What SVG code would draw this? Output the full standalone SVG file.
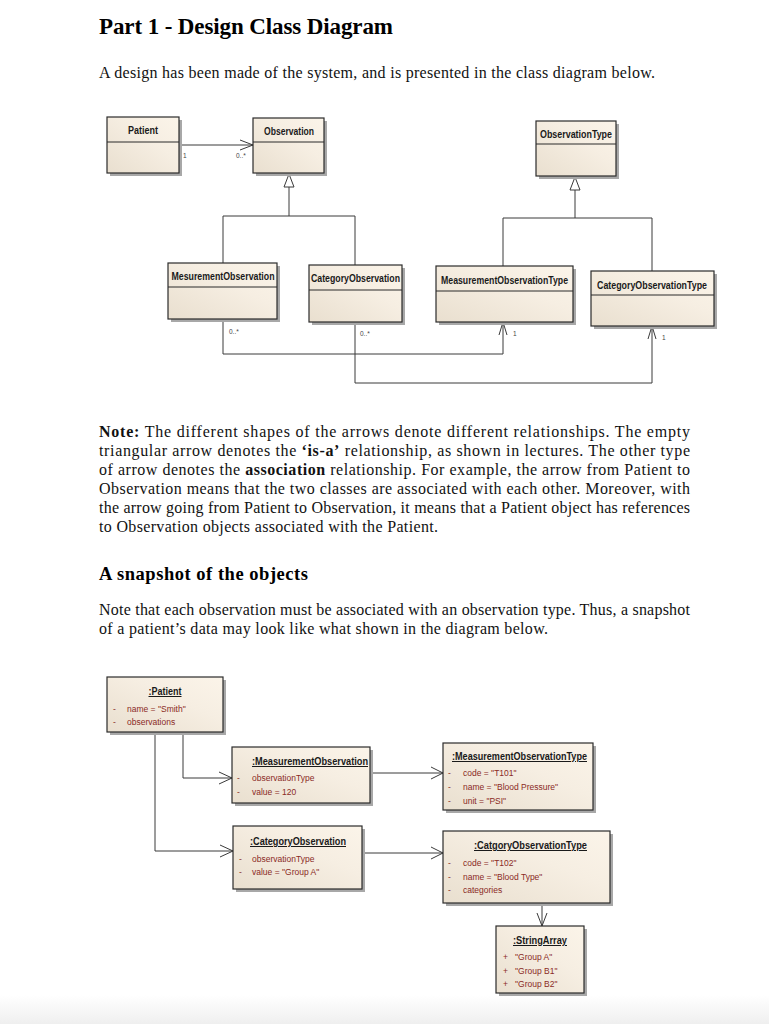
<svg xmlns="http://www.w3.org/2000/svg" width="769" height="1024" viewBox="0 0 769 1024">
<defs>
<linearGradient id="boxfill" x1="0" y1="1" x2="1" y2="0">
<stop offset="0" stop-color="#e9dfcf"/>
<stop offset="0.6" stop-color="#f6eee2"/>
<stop offset="1" stop-color="#fbf4e9"/>
</linearGradient>
<linearGradient id="bottomfade" x1="0" y1="0" x2="0" y2="1">
<stop offset="0" stop-color="#ffffff"/>
<stop offset="1" stop-color="#efefef"/>
</linearGradient>
<style>
.shadow{fill:#a8a8a8;}
.box{fill:url(#boxfill);stroke:#2b2b2b;stroke-width:1.2;}
.div{stroke:#2b2b2b;stroke-width:1;fill:none;}
.cname{font-family:"Liberation Sans",Arial,sans-serif;font-weight:bold;font-size:10px;fill:#1a1a1a;}
.oname{font-family:"Liberation Sans",Arial,sans-serif;font-weight:bold;font-size:10px;fill:#1a1a1a;text-decoration:underline;}
.attr{font-family:"Liberation Sans",Arial,sans-serif;font-size:8.5px;fill:#8a2a25;}
.mult{font-family:"Liberation Sans",Arial,sans-serif;font-size:6.5px;fill:#444;}
.conn{stroke:#3a3a3a;stroke-width:1;fill:none;}
.gen{stroke:#3a3a3a;stroke-width:1;fill:#ffffff;}
.h1{font-family:"Liberation Serif","Times New Roman",serif;font-weight:bold;font-size:23px;fill:#000;}
.h2{font-family:"Liberation Serif","Times New Roman",serif;font-weight:bold;font-size:18.5px;fill:#000;}
.p{font-family:"Liberation Serif","Times New Roman",serif;font-size:16px;fill:#111;}
.b{font-weight:bold;}
</style>
</defs>
<rect x="0" y="0" width="769" height="1024" fill="#ffffff"/>
<rect x="0" y="995" width="769" height="29" fill="url(#bottomfade)"/>

<g id="texts">
<text class="h1" x="99" y="34" textLength="294">Part 1 - Design Class Diagram</text>
<text class="p" x="99" y="78" textLength="556">A design has been made of the system, and is presented in the class diagram below.</text>
<text class="p" x="99" y="437" textLength="591"><tspan class="b">Note:</tspan>  The different shapes of the arrows denote different relationships.  The empty</text>
<text class="p" x="99" y="456" textLength="591">triangular arrow denotes the <tspan class="b">‘is-a’</tspan> relationship, as shown in lectures.  The other type</text>
<text class="p" x="99" y="475" textLength="591">of arrow denotes the <tspan class="b">association</tspan> relationship.  For example, the arrow from Patient to</text>
<text class="p" x="99" y="494" textLength="591">Observation means that the two classes are associated with each other.  Moreover, with</text>
<text class="p" x="99" y="513" textLength="591">the arrow going from Patient to Observation, it means that a Patient object has references</text>
<text class="p" x="99" y="532" textLength="339">to Observation objects associated with the Patient.</text>
<text class="h2" x="99" y="580" textLength="209">A snapshot of the objects</text>
<text class="p" x="99" y="615" textLength="591">Note that each observation must be associated with an observation type.  Thus, a snapshot</text>
<text class="p" x="99" y="634" textLength="449">of a patient’s data may look like what shown in the diagram below.</text>
</g>

<g id="class-connectors">
<line class="conn" x1="179" y1="145" x2="253" y2="145"/>
<polyline class="conn" points="240,140 253,145 240,150"/>
<text class="mult" x="183" y="158">1</text>
<text class="mult" x="236" y="158">0..*</text>

<polyline class="conn" points="223,263 223,216 355,216 355,265"/>
<line class="conn" x1="289" y1="216" x2="289" y2="187"/>
<polygon class="gen" points="289,174 284,187 294,187"/>

<polyline class="conn" points="503,266 503,218 652,218 652,271"/>
<line class="conn" x1="575" y1="218" x2="575" y2="190"/>
<polygon class="gen" points="575,177 570,190 580,190"/>

<polyline class="conn" points="223,319 223,354 503,354 503,322"/>
<polyline class="conn" points="499,335 503,322 507,335"/>
<text class="mult" x="229" y="334">0..*</text>
<text class="mult" x="513" y="336">1</text>

<polyline class="conn" points="355,322 355,383 652,383 652,326"/>
<polyline class="conn" points="648,339 652,326 656,339"/>
<text class="mult" x="360" y="336">0..*</text>
<text class="mult" x="662" y="340">1</text>
</g>

<g id="Patient">
<rect class="shadow" x="110" y="120" width="72" height="56"/>
<rect class="box" x="107" y="117" width="72" height="56"/>
<line class="div" x1="107" y1="142" x2="179" y2="142"/>
<text class="cname" x="143" y="134" text-anchor="middle" textLength="30" lengthAdjust="spacingAndGlyphs">Patient</text>
</g>
<g id="Observation">
<rect class="shadow" x="256" y="121" width="71" height="55"/>
<rect class="box" x="253" y="118" width="71" height="55"/>
<line class="div" x1="253" y1="142" x2="324" y2="142"/>
<text class="cname" x="289" y="135" text-anchor="middle" textLength="50" lengthAdjust="spacingAndGlyphs">Observation</text>
</g>
<g id="ObservationType">
<rect class="shadow" x="539" y="124" width="80" height="55"/>
<rect class="box" x="536" y="121" width="80" height="55"/>
<line class="div" x1="536" y1="144" x2="616" y2="144"/>
<text class="cname" x="576" y="138" text-anchor="middle" textLength="72" lengthAdjust="spacingAndGlyphs">ObservationType</text>
</g>
<g id="MesurementObservation">
<rect class="shadow" x="171" y="266" width="109" height="56"/>
<rect class="box" x="168" y="263" width="109" height="56"/>
<line class="div" x1="168" y1="287" x2="277" y2="287"/>
<text class="cname" x="223" y="280" text-anchor="middle" textLength="103" lengthAdjust="spacingAndGlyphs">MesurementObservation</text>
</g>
<g id="CategoryObservation">
<rect class="shadow" x="312" y="268" width="93" height="57"/>
<rect class="box" x="309" y="265" width="93" height="57"/>
<line class="div" x1="309" y1="290" x2="402" y2="290"/>
<text class="cname" x="355.5" y="282" text-anchor="middle" textLength="89" lengthAdjust="spacingAndGlyphs">CategoryObservation</text>
</g>
<g id="MeasurementObservationType">
<rect class="shadow" x="439" y="269" width="137" height="56"/>
<rect class="box" x="436" y="266" width="137" height="56"/>
<line class="div" x1="436" y1="291" x2="573" y2="291"/>
<text class="cname" x="504.5" y="284" text-anchor="middle" textLength="127" lengthAdjust="spacingAndGlyphs">MeasurementObservationType</text>
</g>
<g id="CategoryObservationType">
<rect class="shadow" x="594" y="274" width="123" height="55"/>
<rect class="box" x="591" y="271" width="123" height="55"/>
<line class="div" x1="591" y1="295" x2="714" y2="295"/>
<text class="cname" x="652" y="289" text-anchor="middle" textLength="110" lengthAdjust="spacingAndGlyphs">CategoryObservationType</text>
</g>

<g id="object-connectors">
<polyline class="conn" points="183,732 183,778 232,778"/>
<polyline class="conn" points="219,772 232,778 219,784"/>
<polyline class="conn" points="155,732 155,851 233,851"/>
<polyline class="conn" points="220,845 233,851 220,857"/>
<line class="conn" x1="370" y1="773" x2="443" y2="773"/>
<polyline class="conn" points="431,767 443,773 431,779"/>
<line class="conn" x1="362" y1="853" x2="443" y2="853"/>
<polyline class="conn" points="431,847 443,853 431,859"/>
<line class="conn" x1="542" y1="903" x2="542" y2="926"/>
<polyline class="conn" points="537,913 542,926 547,913"/>
</g>

<g id="obj-Patient">
<rect class="shadow" x="110" y="680" width="116" height="55"/>
<rect class="box" x="107" y="677" width="116" height="55"/>
<text class="oname" x="165" y="695" text-anchor="middle" textLength="33" lengthAdjust="spacingAndGlyphs">:Patient</text>
<text class="attr" x="113" y="712">-</text><text class="attr" x="127" y="712">name = "Smith"</text>
<text class="attr" x="113" y="725">-</text><text class="attr" x="127" y="725">observations</text>
</g>
<g id="obj-MeasurementObservation">
<rect class="shadow" x="235" y="750" width="138" height="56"/>
<rect class="box" x="232" y="747" width="138" height="56"/>
<text class="oname" x="252" y="765" textLength="116" lengthAdjust="spacingAndGlyphs">:MeasurementObservation</text>
<text class="attr" x="237" y="781">-</text><text class="attr" x="252" y="781">observationType</text>
<text class="attr" x="237" y="795">-</text><text class="attr" x="252" y="795">value = 120</text>
</g>
<g id="obj-MeasurementObservationType">
<rect class="shadow" x="446" y="746" width="150" height="67"/>
<rect class="box" x="443" y="743" width="150" height="67"/>
<text class="oname" x="452" y="760" textLength="135" lengthAdjust="spacingAndGlyphs">:MeasurementObservationType</text>
<text class="attr" x="448" y="776">-</text><text class="attr" x="463" y="776">code = "T101"</text>
<text class="attr" x="448" y="790">-</text><text class="attr" x="463" y="790">name = "Blood Pressure"</text>
<text class="attr" x="448" y="804">-</text><text class="attr" x="463" y="804">unit = "PSI"</text>
</g>
<g id="obj-CategoryObservation">
<rect class="shadow" x="236" y="829" width="129" height="63"/>
<rect class="box" x="233" y="826" width="129" height="63"/>
<text class="oname" x="250" y="845" textLength="96" lengthAdjust="spacingAndGlyphs">:CategoryObservation</text>
<text class="attr" x="239" y="862">-</text><text class="attr" x="252" y="862">observationType</text>
<text class="attr" x="239" y="875">-</text><text class="attr" x="252" y="875">value = "Group A"</text>
</g>
<g id="obj-CatgoryObservationType">
<rect class="shadow" x="446" y="834" width="167" height="72"/>
<rect class="box" x="443" y="831" width="167" height="72"/>
<text class="oname" x="474" y="849" textLength="113" lengthAdjust="spacingAndGlyphs">:CatgoryObservationType</text>
<text class="attr" x="448" y="866">-</text><text class="attr" x="463" y="866">code = "T102"</text>
<text class="attr" x="448" y="880">-</text><text class="attr" x="463" y="880">name = "Blood Type"</text>
<text class="attr" x="448" y="893">-</text><text class="attr" x="463" y="893">categories</text>
</g>
<g id="obj-StringArray">
<rect class="shadow" x="499" y="929" width="88" height="67"/>
<rect class="box" x="496" y="926" width="88" height="67"/>
<text class="oname" x="513" y="944" textLength="54" lengthAdjust="spacingAndGlyphs">:StringArray</text>
<text class="attr" x="503" y="960">+</text><text class="attr" x="515" y="960">"Group A"</text>
<text class="attr" x="503" y="974">+</text><text class="attr" x="515" y="974">"Group B1"</text>
<text class="attr" x="503" y="987">+</text><text class="attr" x="515" y="987">"Group B2"</text>
</g>
</svg>
